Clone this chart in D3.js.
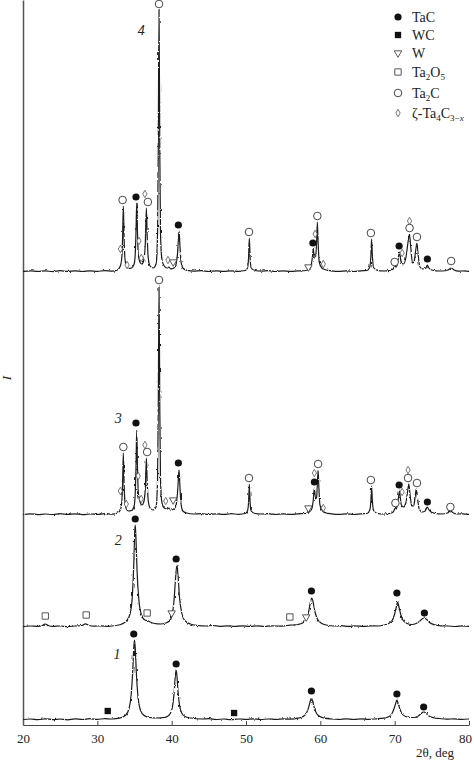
<!DOCTYPE html>
<html>
<head>
<meta charset="utf-8">
<script src="https://cdn.jsdelivr.net/npm/d3@7"></script>
<style>
  body { margin: 0; background: #fff; }
  svg { display: block; }
  text { font-family: "Liberation Serif", "DejaVu Serif", serif; fill: #222; }
</style>
</head>
<body>
<div id="chart"></div>
<script>
const WIDTH = 474;
const HEIGHT = 777;
const LEFT = 23, RIGHT = 469, TOP = 0, BOTTOM = 725;

// 2theta ticks
const xTicks = [20, 30, 40, 50, 60, 70, 80];

// vertical stacking of the four patterns (intensity units)
const curveOffsets = [5, 98, 210, 453];
const curveNames = ["1", "2", "3", "4"];

// pattern 1
const curve1 = [[20,0.5],[21,1],[22,0.3],[23,1.2],[24,0.4],[25,1],[26,0.2],[27,1.1],[28,0.5],[29,1.3],[30,0.6],[31,1.4],[32,1],[33,1.8],[33.8,4.7],[34.25,11],[34.55,25],[34.75,47],[34.9,72],[35,80],[35.1,72],[35.25,47],[35.45,25],[35.75,11],[36.2,5],[37,2.5],[38,2],[39,2.5],[39.4,3.5],[39.85,7],[40.15,15],[40.35,29],[40.5,45],[40.6,50],[40.7,45],[40.85,29],[41.05,15],[41.35,7],[41.8,3.5],[42.6,2],[44,1],[45,1.4],[46,0.5],[47,1],[48,0.4],[49,1],[50,0.6],[51,1.2],[52,0.5],[53,1],[54,0.6],[55,1.1],[56,0.8],[57,1.8],[57.6,3.2],[58.1,6.5],[58.4,12],[58.65,19],[58.8,22],[58.95,19],[59.2,12],[59.5,6.5],[60,3.2],[60.6,1.8],[61.5,1],[62.5,0.6],[63.5,1.2],[64.5,0.5],[65.5,1.1],[66.5,0.7],[67.5,1.2],[68.5,1.8],[69.1,3],[69.6,6],[69.9,11],[70.15,17],[70.3,20],[70.45,17],[70.7,11],[71,6],[71.5,3.5],[72.1,2.5],[72.6,2.5],[73.2,4],[73.55,6.5],[73.9,8],[74.25,6.5],[74.6,4],[75.4,2],[76,1.5],[77,0.8],[78,1.2],[79,0.6],[80,1]];

// pattern 2
const curve2 = [[20,0.5],[21,1],[22,0.6],[22.6,1.5],[23,3],[23.4,1.5],[24,0.6],[25,1],[26,0.4],[27,1],[27.9,1.5],[28.4,3.2],[28.9,1.5],[29.5,0.8],[30.5,1.2],[31.5,0.7],[32.5,1.5],[33.3,3],[33.9,6],[34.4,13],[34.7,30],[34.9,62],[35.05,98],[35.1,102],[35.2,88],[35.35,55],[35.6,26],[35.95,12],[36.4,7],[36.7,6.5],[37.1,5],[37.7,3.5],[38.5,3],[39.2,4],[39.7,6],[40.05,12],[40.3,25],[40.5,46],[40.7,62],[40.85,52],[41.05,30],[41.35,14],[41.8,6],[42.5,3],[43.5,1.5],[44.5,1],[45.5,1.5],[46.5,0.6],[47.5,1.2],[48.5,0.5],[49.5,1.2],[50.5,0.6],[51.5,1.1],[52.5,0.5],[53.5,1.2],[54.5,0.8],[55.5,1.5],[56.3,2],[57,2.5],[57.6,4],[58.1,8],[58.45,16],[58.7,26],[58.85,29],[59.0,26],[59.25,16],[59.6,8],[60.1,4],[60.8,2],[61.8,1],[62.8,1.3],[63.8,0.6],[64.8,1.2],[65.8,0.7],[66.8,1.2],[67.8,1],[68.6,2],[69.2,3.5],[69.7,7],[70.0,13],[70.25,21],[70.4,25],[70.55,21],[70.8,13],[71.1,7],[71.6,3.8],[72.3,2.5],[72.9,3.5],[73.4,6],[73.9,9],[74.3,7.5],[74.7,4.5],[75.4,2.2],[76.2,1.2],[77.2,1],[78.2,0.5],[79.2,1.2],[80,0.6]];

// pattern 3
const curve3 = [[20,0.5],[21,1.2],[22,0.4],[23,1],[24,0.5],[25,1.3],[26,0.6],[27,1.2],[28,0.4],[29,1],[30,0.6],[31,1.3],[32,0.8],[32.7,2],[33.1,5],[33.3,14],[33.4,32],[33.5,62],[33.6,32],[33.7,14],[33.9,6],[34.2,4],[34.6,4.5],[34.95,9],[35.1,22],[35.2,48],[35.3,85],[35.4,48],[35.5,24],[35.65,16],[35.8,12],[36.0,10],[36.25,13],[36.45,26],[36.6,57],[36.7,35],[36.85,14],[37.1,7],[37.5,5],[37.9,8],[38.1,35],[38.2,110],[38.3,228],[38.4,110],[38.5,35],[38.7,12],[39.0,7],[39.4,6],[39.6,7],[39.9,5],[40.3,6],[40.6,10],[40.8,24],[40.9,35],[41.0,45],[41.1,30],[41.25,12],[41.5,4],[42,2],[43,1],[44,1.4],[45,0.5],[46,1.2],[47,0.6],[48,1.3],[49,0.7],[49.9,1.5],[50.2,4],[50.35,13],[50.45,31],[50.55,13],[50.7,4],[51.2,1.5],[52,1],[53,1.3],[54,0.5],[55,1.2],[56,0.6],[57,1.2],[58,1.5],[58.5,3],[58.85,6],[59.05,15],[59.2,27],[59.35,16],[59.5,18],[59.6,30],[59.7,45],[59.8,28],[59.95,10],[60.3,4],[60.8,2],[61.5,1.2],[62.5,0.6],[63.5,1.2],[64.5,0.5],[65.5,1.2],[66.3,1.5],[66.65,5],[66.8,14],[66.9,29],[67.0,14],[67.2,4],[67.7,1.5],[68.5,1],[69.3,1.5],[69.8,3],[70.0,6],[70.1,8],[70.25,6],[70.4,10],[70.55,20],[70.65,24],[70.75,18],[70.9,10],[71.2,8],[71.5,12],[71.75,24],[71.9,31],[72.05,22],[72.3,9],[72.55,9],[72.75,18],[72.9,26],[73.05,18],[73.3,6],[73.7,3],[74.1,4],[74.3,7],[74.4,8],[74.55,6],[74.9,3],[75.5,1.5],[76.3,1],[77.1,2],[77.5,4],[77.9,2],[78.5,1],[79.2,1.2],[80,0.6]];

// pattern 4
const curve4 = [[20,0.6],[21,1.2],[22,0.5],[23,1.1],[24,0.4],[25,1.3],[26,0.6],[27,1.1],[28,0.5],[29,1.2],[30,0.7],[31,1.3],[32,0.8],[32.7,2],[33.1,6],[33.3,15],[33.4,34],[33.5,66],[33.6,34],[33.7,15],[33.9,6],[34.2,3.5],[34.6,4],[34.95,8],[35.1,18],[35.2,40],[35.3,69],[35.4,40],[35.5,18],[35.65,12],[35.8,9],[36.0,8],[36.25,12],[36.45,28],[36.6,64],[36.7,38],[36.85,14],[37.1,6],[37.5,4],[37.9,8],[38.1,38],[38.2,125],[38.3,262],[38.4,125],[38.5,38],[38.7,12],[39.0,6],[39.4,4],[39.6,5],[39.9,3],[40.3,4],[40.6,8],[40.8,20],[40.9,32],[41.0,41],[41.1,28],[41.25,11],[41.5,4],[42,1.8],[43,0.8],[44,1.3],[45,0.5],[46,1.1],[47,0.6],[48,1.2],[49,0.7],[49.9,1.5],[50.2,4],[50.35,15],[50.45,34],[50.55,15],[50.7,4],[51.2,1.5],[52,0.9],[53,1.3],[54,0.5],[55,1.2],[56,0.6],[57,1.1],[58,1.5],[58.5,3],[58.8,8],[58.95,16],[59.05,23],[59.2,14],[59.35,14],[59.5,30],[59.6,50],[59.7,30],[59.85,10],[60.2,4],[60.8,2],[61.5,1.2],[62.5,0.6],[63.5,1.2],[64.5,0.5],[65.5,1.2],[66.3,1.5],[66.65,5],[66.8,16],[66.9,33],[67.0,16],[67.2,4],[67.7,1.5],[68.5,1],[69.3,1.5],[69.8,3],[70.0,6],[70.2,5],[70.4,9],[70.55,17],[70.65,20],[70.75,15],[70.9,9],[71.2,8],[71.55,16],[71.8,30],[72.0,38],[72.15,26],[72.4,9],[72.6,10],[72.8,20],[73.0,29],[73.15,18],[73.4,5],[73.8,3],[74.2,4],[74.4,7],[74.6,4],[75,2],[75.6,1.2],[76.4,1],[77.2,2],[77.6,4],[78,2],[78.6,0.8],[79.3,1.2],[80,0.7]];

// phase markers: [phase, 2theta, level above the pattern baseline]
const markers1 = [["TaC",34.9,86],["TaC",40.6,56],["TaC",58.8,29],["TaC",70.3,26],["TaC",73.9,13],["WC",31.4,9],["WC",48.4,7]];
const markers2 = [["TaC",35.1,108],["TaC",40.6,68],["Ta2O5",23.0,11],["Ta2O5",28.5,12],["Ta2O5",36.7,14],["W",40.0,14],["Ta2O5",55.9,10],["W",58.1,10],["TaC",58.8,36],["TaC",70.3,34],["TaC",74.0,14]];
const markers3 = [["Ta2C",38.3,235],["Ta2C",33.5,68],["TaC",35.2,92],["zeta",36.4,70],["Ta2C",36.7,63],["TaC",40.9,52],["zeta",33.1,24],["zeta",33.9,11],["zeta",35.5,39],["zeta",35.9,16],["zeta",39.2,14],["W",40.2,15],["Ta2C",50.4,37],["W",58.4,7],["zeta",59.2,42],["TaC",59.2,33],["Ta2C",59.7,51],["zeta",60.4,7],["Ta2C",66.8,35],["Ta2C",70.1,12],["TaC",70.6,30],["zeta",71.0,23],["zeta",71.8,45],["Ta2C",71.8,37],["Ta2C",73.0,32],["TaC",74.4,13],["Ta2C",77.5,8]];
const markers4 = [["Ta2C",38.3,268],["Ta2C",33.4,72],["TaC",35.2,75],["zeta",36.4,78],["Ta2C",36.8,70],["TaC",40.9,47],["zeta",33.1,23],["zeta",34.0,7],["zeta",35.6,31],["zeta",35.9,14],["zeta",39.5,12],["W",40.2,10],["Ta2C",50.4,40],["W",58.4,5],["TaC",59.0,29],["zeta",59.3,38],["Ta2C",59.6,56],["zeta",60.4,8],["Ta2C",66.8,39],["Ta2C",70.0,10],["TaC",70.6,26],["zeta",71.0,19],["zeta",72.0,51],["Ta2C",72.0,44],["Ta2C",73.0,35],["TaC",74.4,13],["Ta2C",77.6,11]];

// curve number positions: [2theta, level above baseline]
const curveLabelPos = [[32.65, 61], [32.8, 82], [32.8, 92], [35.9, 237]];

const curves = [curve1, curve2, curve3, curve4];
const markerSets = [markers1, markers2, markers3, markers4];

// legend entries: phase key + label pieces [text, "sub"|"subit"|""]
const legendPhases = ["TaC", "WC", "W", "Ta2O5", "Ta2C", "zeta"];
const legendLabels = [
    [["TaC",""]],
    [["WC",""]],
    [["W",""]],
    [["Ta",""],["2","sub"],["O",""],["5","sub"]],
    [["Ta",""],["2","sub"],["C",""]],
    [["ζ-Ta",""],["4","sub"],["C",""],["3−","sub"],["x","subit"]]
];

const svg = d3.select("#chart")
    .append("svg")
    .attr("width", WIDTH)
    .attr("height", HEIGHT);

const defs = svg.append("defs");
const fuzz = defs.append("filter")
    .attr("id", "fuzz")
    .attr("filterUnits", "userSpaceOnUse")
    .attr("x", 0).attr("y", 0)
    .attr("width", WIDTH).attr("height", HEIGHT);
fuzz.append("feTurbulence")
    .attr("type", "fractalNoise")
    .attr("baseFrequency", "0.7 0.25")
    .attr("numOctaves", 1)
    .attr("seed", 4)
    .attr("result", "noise");
fuzz.append("feDisplacementMap")
    .attr("in", "SourceGraphic")
    .attr("in2", "noise")
    .attr("scale", 2.8)
    .attr("xChannelSelector", "R")
    .attr("yChannelSelector", "G");

const x = d3.scaleLinear().domain([20, 80]).range([LEFT, RIGHT]);
const y = d3.scaleLinear().domain([0, BOTTOM - TOP]).range([BOTTOM, TOP]);

// axes
const xAxis = d3.axisBottom(x)
    .tickValues(xTicks)
    .tickSizeInner(-4)
    .tickSizeOuter(0)
    .tickPadding(9);

const gx = svg.append("g")
    .attr("class", "axis axis-x")
    .attr("transform", "translate(0," + BOTTOM + ")")
    .call(xAxis);
gx.select(".domain").attr("stroke", "#444").attr("stroke-width", 1.2);
gx.selectAll(".tick line").attr("stroke", "#444");
gx.selectAll(".tick text")
    .attr("font-size", 13)
    .attr("font-family", "Liberation Serif, serif")
    .attr("fill", "#222")
    .attr("dx", d => d === 80 ? -4 : 0);

const yAxis = d3.axisLeft(y).tickValues([]).tickSizeOuter(0);
const gy = svg.append("g")
    .attr("class", "axis axis-y")
    .attr("transform", "translate(" + LEFT + ",0)")
    .call(yAxis);
gy.select(".domain").attr("stroke", "#555").attr("stroke-width", 1.5);

svg.append("text")
    .attr("x", 435)
    .attr("y", 757)
    .attr("text-anchor", "middle")
    .attr("font-size", 13)
    .text("2θ, deg");

svg.append("text")
    .attr("transform", "translate(11,378) rotate(-90)")
    .attr("text-anchor", "middle")
    .attr("font-size", 13)
    .attr("font-style", "italic")
    .text("I");

// patterns
const gcurves = svg.append("g").attr("class", "curves");
curves.forEach(function (pts, i) {
    const off = curveOffsets[i];
    const line = d3.line()
        .x(d => x(d[0]))
        .y(d => y(d[1] + off))
        .curve(d3.curveMonotoneX);
    gcurves.append("path")
        .datum(pts)
        .attr("fill", "none")
        .attr("stroke", "#1a1a1a")
        .attr("stroke-width", 1.2)
        .attr("filter", "url(#fuzz)")
        .attr("d", line);
});

// curve numbers
curveLabelPos.forEach(function (p, i) {
    svg.append("text")
        .attr("x", x(p[0]))
        .attr("y", y(p[1] + curveOffsets[i]))
        .attr("text-anchor", "middle")
        .attr("font-size", 14)
        .attr("font-style", "italic")
        .text(curveNames[i]);
});

// phase symbols
function drawSymbol(g, phase, cx, cy, scale) {
    const k = scale || 1;
    if (phase === "TaC") {
        g.append("circle").attr("cx", cx).attr("cy", cy).attr("r", 3.6 * k).attr("fill", "#111");
    } else if (phase === "Ta2C") {
        g.append("circle").attr("cx", cx).attr("cy", cy).attr("r", 3.8 * k)
            .attr("fill", "#fff").attr("stroke", "#333").attr("stroke-width", 0.9);
    } else if (phase === "WC") {
        g.append("path").attr("d", d3.symbol(d3.symbolSquare, 40 * k * k)())
            .attr("transform", "translate(" + cx + "," + cy + ")").attr("fill", "#111");
    } else if (phase === "Ta2O5") {
        g.append("path").attr("d", d3.symbol(d3.symbolSquare, 40 * k * k)())
            .attr("transform", "translate(" + cx + "," + cy + ")")
            .attr("fill", "#fff").attr("stroke", "#444").attr("stroke-width", 0.9);
    } else if (phase === "W") {
        g.append("path").attr("d", d3.symbol(d3.symbolTriangle, 24 * k * k)())
            .attr("transform", "translate(" + cx + "," + cy + ") rotate(180)")
            .attr("fill", "#fff").attr("stroke", "#444").attr("stroke-width", 0.9);
    } else if (phase === "zeta") {
        g.append("path").attr("d", d3.symbol(d3.symbolDiamond, 16 * k * k)())
            .attr("transform", "translate(" + cx + "," + cy + ")")
            .attr("fill", "#fff").attr("stroke", "#555").attr("stroke-width", 0.8);
    }
}

const gmarks = svg.append("g").attr("class", "markers");
markerSets.forEach(function (set, i) {
    set.forEach(function (m) {
        drawSymbol(gmarks, m[0], x(m[1]), y(m[2] + curveOffsets[i]));
    });
});

// legend
const glegend = svg.append("g").attr("class", "legend");
const legendRows = [17, 35, 53, 72, 93, 113];
legendPhases.forEach(function (ph, i) {
    drawSymbol(glegend, ph, 398, legendRows[i], 1);
    const t = glegend.append("text")
        .attr("x", 412)
        .attr("y", legendRows[i] + 5)
        .attr("font-size", 14);
    let shifted = 0;
    legendLabels[i].forEach(function (piece) {
        const ts = t.append("tspan").text(piece[0]);
        const isSub = piece[1] === "sub" || piece[1] === "subit";
        if (isSub) {
            ts.attr("font-size", 9).attr("dy", shifted ? 0 : 3);
            if (piece[1] === "subit") ts.attr("font-style", "italic");
            shifted = 3;
        } else {
            ts.attr("dy", shifted ? -shifted : 0);
            shifted = 0;
        }
    });
});
</script>
</body>
</html>
